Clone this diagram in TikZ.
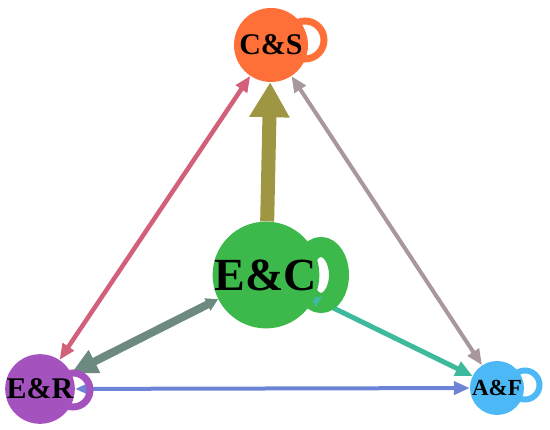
\documentclass[tikz,border=0pt]{standalone}
\usepackage{fontspec}
\setmainfont{Liberation Serif}
\usetikzlibrary{arrows.meta,positioning,calc}

\definecolor{csorange}{HTML}{FF7038}
\definecolor{ecgreen}{HTML}{3DB84B}
\definecolor{erpurple}{HTML}{A452BE}
\definecolor{afblue}{HTML}{4CB9F6}
\definecolor{olive}{HTML}{9E9642}
\definecolor{rosepink}{HTML}{D3607A}
\definecolor{mauvegray}{HTML}{A8979F}
\definecolor{lineblue}{HTML}{6D84D6}
\definecolor{slateteal}{HTML}{6C8A80}
\definecolor{seateal}{HTML}{3DBA9C}

\pgfdeclarelayer{edges}
\pgfdeclarelayer{loops}
\pgfsetlayers{edges,loops,main}

\begin{document}
\begin{tikzpicture}[x=1pt, y=1pt]
		\tikzstyle{topic}=[circle, inner sep=0pt, text=black]
		\tikzstyle{ring}=[draw, fill=none]
		\tikzstyle{link}=[line width=4.5pt, >={Triangle[length=16pt, width=13pt]}]
		\useasboundingbox (0,0) rectangle (550,430);
		\node[topic, fill=csorange, minimum size=74pt, font={\fontsize{30}{30}\selectfont\bfseries}] (cs) at (271,385) {C\&S};
		\node[topic, fill=ecgreen, minimum size=100pt, font={\fontsize{46}{46}\selectfont\bfseries}] (ec) at (266,155) {E\&C};
		\node[topic, fill=erpurple, minimum size=66pt, font={\fontsize{30}{30}\selectfont\bfseries}] (er) at (40,41) {E\&R};
		\node[topic, fill=afblue, minimum size=54pt, font={\fontsize{23}{23}\selectfont\bfseries}] (af) at (497,42) {A\&F};
		% self loops
		\begin{pgfonlayer}{loops}
		\draw[ring, csorange, line width=7pt] ([shift={(34,5)}]cs.center) circle (19);
		\draw[ring, ecgreen, line width=20pt] ([shift={(55,0)}]ec.center) ellipse [x radius=18, y radius=28];
		\draw[ring, erpurple, line width=7pt] ([shift={(33,-1)}]er.center) circle (17);
		\draw[ring, afblue, line width=6pt] ([shift={(28,3)}]af.center) circle (14.5);
		\fill[seateal] ([shift={(44,-22)}]ec.center) -- ++(12,0) -- ++(-6,-10) -- cycle;
		\end{pgfonlayer}
		% links
		\begin{pgfonlayer}{edges}
		\draw[->, line width=14pt, olive, >={Triangle[length=35pt, width=38pt]}] (ec) -- (cs);
		\draw[<->, link, rosepink] (er) -- (cs);
		\draw[<->, link, mauvegray, line width=4pt] (af) -- (cs);
		\draw[<->, link, lineblue, line width=4pt] (er) -- (af);
		\draw[{Triangle[length=12pt, width=13pt]}-{Triangle[length=26pt, width=24pt]}, link, slateteal, line width=8pt] (ec) -- (er);
		\draw[->, link, seateal, line width=5pt, >={Triangle[length=17pt, width=15pt]}] (ec) -- (af);
		\end{pgfonlayer}
	\end{tikzpicture}
\end{document}
